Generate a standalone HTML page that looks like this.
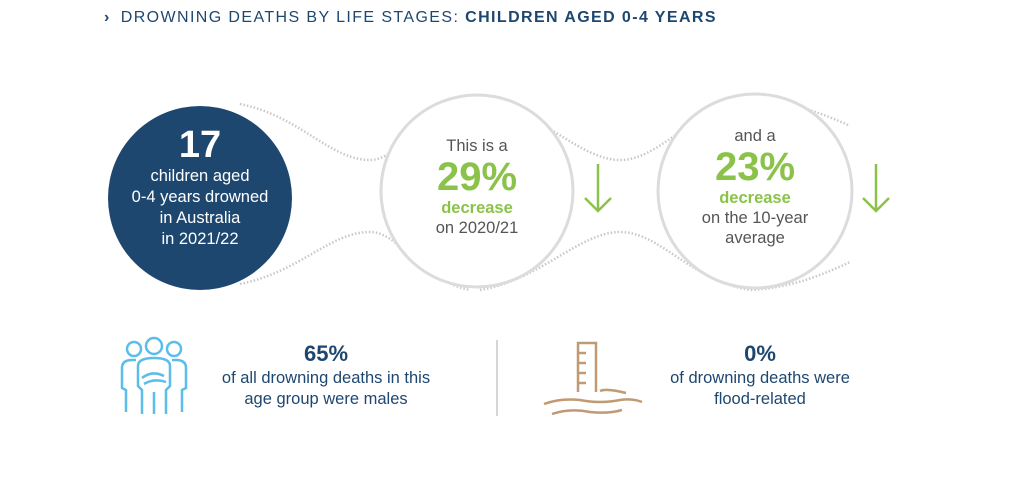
<!DOCTYPE html>
<html><head><meta charset="utf-8"><style>
body{margin:0;width:1024px;height:503px;background:#fff;font-family:"Liberation Sans",sans-serif;position:relative;overflow:hidden}
.t{position:absolute;text-align:center;white-space:nowrap}
</style></head><body>
<div class="t" style="left:104px;top:9px;text-align:left;font-size:16px;color:#1e4770;letter-spacing:1.4px">
<span style="font-weight:bold;margin-right:10px">&#8250;</span>DROWNING DEATHS BY LIFE STAGES: <b>CHILDREN AGED 0-4 YEARS</b></div>
<svg width="1024" height="503" style="position:absolute;left:0;top:0">
<g fill="none" stroke="#c8c8c8" stroke-width="2.5" stroke-dasharray="1.5 2">
<path d="M240 104 C300 116 330 160 370 160 C400 160 420 110 470 100"/>
<path d="M480 100 C540 110 580 160 620 160 C660 160 690 110 750 100 C790 102 820 112 850 126"/>
<path d="M240 284 C300 272 330 232 370 232 C400 232 420 280 470 290"/>
<path d="M480 290 C540 280 580 232 620 232 C660 232 690 280 750 290 C790 288 820 276 850 262"/>
</g>
<circle cx="200" cy="198" r="92" fill="#1e4770"/>
<circle cx="477" cy="191" r="96" fill="#fff" stroke="#dcdcdc" stroke-width="3"/>
<circle cx="755" cy="191" r="97" fill="#fff" stroke="#dcdcdc" stroke-width="3"/>
<g stroke="#8bc34a" stroke-width="2.5" fill="none">
<path d="M598 164 V211 M585 198 L598 211 L611 198"/>
<path d="M876 164 V211 M863 198 L876 211 L889 198"/>
</g>
<g stroke="#5bbde9" stroke-width="2.5" fill="none">
<circle cx="134" cy="349" r="7"/><circle cx="154" cy="346" r="8"/><circle cx="174" cy="349" r="7"/>
<path d="M126 412 V390 L122 388 V368 Q122 360 132 360 H136"/>
<path d="M182 412 V390 L186 388 V368 Q186 360 176 360 H172"/>
<path d="M142 414 V390 L138 386 V366 Q138 358 154 358 Q170 358 170 366 V386 L166 390 V414 M154 392 V414"/>
<path d="M142 378 Q152 370 164 376 M144 384 Q154 378 166 382"/>
</g>
<line x1="497" y1="340" x2="497" y2="416" stroke="#d6d6d6" stroke-width="2"/>
<g stroke="#bf9a72" stroke-width="2.5" fill="none">
<path d="M578 392 V343 H596 V392 M578 353 H586 M578 363 H586 M578 373 H586 M578 383 H586"/>
<path d="M600 391 Q606 388 626 393"/>
<path d="M544 404 Q560 398 580 400 Q600 404 620 400 Q632 398 642 402"/>
<path d="M552 414 Q570 408 590 412 Q608 414 622 410"/>
</g>
</svg>
<div class="t" style="left:110px;top:124px;width:180px;color:#fff;font-size:16.5px;line-height:21px">
<div style="font-size:38px;font-weight:bold;line-height:42px">17</div>children aged<br>0-4 years drowned<br>in Australia<br>in 2021/22</div>
<div class="t" style="left:397px;top:136px;width:160px;color:#555;font-size:16.5px;line-height:20px">This is a<br>
<span style="color:#8bc34a;font-size:40px;font-weight:bold;line-height:42px">29%</span><br>
<span style="color:#8bc34a;font-weight:bold">decrease</span><br>on 2020/21</div>
<div class="t" style="left:675px;top:126px;width:160px;color:#555;font-size:16.5px;line-height:20px">and a<br>
<span style="color:#8bc34a;font-size:40px;font-weight:bold;line-height:42px">23%</span><br>
<span style="color:#8bc34a;font-weight:bold">decrease</span><br>on the 10-year<br>average</div>
<div class="t" style="left:206px;top:340px;width:240px;color:#1e4770;font-size:16.5px;line-height:21px">
<div style="font-size:22px;font-weight:bold;line-height:28px">65%</div>of all drowning deaths in this<br>age group were males</div>
<div class="t" style="left:640px;top:340px;width:240px;color:#1e4770;font-size:16.5px;line-height:21px">
<div style="font-size:22px;font-weight:bold;line-height:28px">0%</div>of drowning deaths were<br>flood-related</div>
</body></html>
